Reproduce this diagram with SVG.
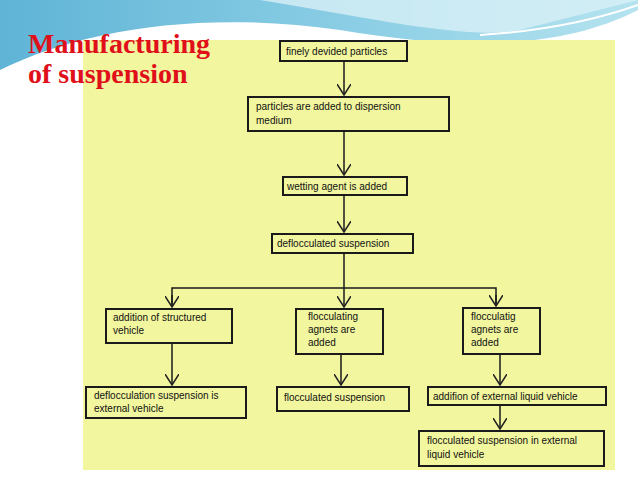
<svg xmlns="http://www.w3.org/2000/svg" width="638" height="478" viewBox="0 0 638 478">
<defs>
<linearGradient id="sky" x1="0" y1="0" x2="1" y2="0"><stop offset="0" stop-color="#5fb4d6"/><stop offset="0.6" stop-color="#8fd0e6"/><stop offset="1" stop-color="#b5e3ef"/></linearGradient>
<marker id="ah" viewBox="0 0 12 14" refX="11" refY="7" markerWidth="12" markerHeight="14" markerUnits="userSpaceOnUse" orient="auto"><path d="M0,0 L11,7 L0,14" fill="none" stroke="#222" stroke-width="1.5"/></marker>
</defs>
<style>
.b{fill:none;stroke:#1a1a1a;stroke-width:2}
.t{font-family:"Liberation Sans",Arial,sans-serif;font-size:10px;fill:#111}
.c{stroke:#1a1a1a;stroke-width:1.5;fill:none}
.ttl{font-family:"Liberation Serif","Times New Roman",serif;font-size:28px;font-weight:bold;fill:#e0101a}
</style>
<rect width="638" height="478" fill="#fff"/>
<path d="M0,0 H638 V10 C560,50 460,50 340,30 C200,10 80,30 0,70 Z" fill="url(#sky)"/>
<path d="M260,0 C380,20 470,40 520,30 L638,0 Z" fill="#d8f0f6" opacity="0.8"/>
<path d="M0,75 C100,30 200,25 300,35" fill="none" stroke="#ffffff" stroke-width="3" opacity="0.8"/>
<path d="M480,35 C560,30 610,15 638,5" fill="none" stroke="#ffffff" stroke-width="2"/>
<rect x="83" y="40" width="532" height="430" fill="#f2f69f"/>
<text class="ttl" x="28" y="53">Manufacturing</text>
<text class="ttl" x="28" y="83">of suspension</text>
<g id="connectors">
<line class="c" x1="344" y1="61" x2="344" y2="95" marker-end="url(#ah)"/>
<line class="c" x1="344" y1="131" x2="344" y2="175" marker-end="url(#ah)"/>
<line class="c" x1="344" y1="195" x2="344" y2="232" marker-end="url(#ah)"/>
<line class="c" x1="344" y1="253" x2="344" y2="307" marker-end="url(#ah)"/>
<polyline class="c" points="172,307 172,288 496,288 496,306"/>
<line class="c" x1="172" y1="295" x2="172" y2="307" marker-end="url(#ah)"/>
<line class="c" x1="496" y1="295" x2="496" y2="306" marker-end="url(#ah)"/>
<line class="c" x1="172" y1="343" x2="172" y2="385" marker-end="url(#ah)"/>
<line class="c" x1="341" y1="354" x2="341" y2="385" marker-end="url(#ah)"/>
<line class="c" x1="500" y1="354" x2="500" y2="385" marker-end="url(#ah)"/>
<line class="c" x1="500" y1="405" x2="500" y2="429" marker-end="url(#ah)"/>
</g>
<g id="n1"><rect class="b" x="280" y="41" width="127" height="20"/><text class="t" x="286" y="55">finely devided particles</text></g>
<g id="n2"><rect class="b" x="248" y="97" width="201" height="34"/><text class="t" x="256" y="110">particles are added to  dispersion</text><text class="t" x="256" y="124">medium</text></g>
<g id="n3"><rect class="b" x="283" y="177" width="124" height="18"/><text class="t" x="287" y="190">wetting agent is added</text></g>
<g id="n4"><rect class="b" x="272" y="234" width="141" height="19"/><text class="t" x="277" y="247">deflocculated suspension</text></g>
<g id="n5"><rect class="b" x="106" y="309" width="126" height="34"/><text class="t" x="113" y="321">addition of structured</text><text class="t" x="113" y="334">vehicle</text></g>
<g id="n6"><rect class="b" x="296" y="309" width="87" height="45"/><text class="t" x="308" y="320">flocculating</text><text class="t" x="308" y="333">agnets are</text><text class="t" x="308" y="346">added</text></g>
<g id="n7"><rect class="b" x="463" y="308" width="77" height="46"/><text class="t" x="471" y="320">flocculatig</text><text class="t" x="471" y="333">agnets are</text><text class="t" x="471" y="346">added</text></g>
<g id="n8"><rect class="b" x="86" y="387" width="160" height="31"/><text class="t" x="94" y="399">deflocculation suspension is</text><text class="t" x="94" y="412">external vehicle</text></g>
<g id="n9"><rect class="b" x="277" y="387" width="132" height="24"/><text class="t" x="284" y="401">flocculated suspension</text></g>
<g id="n10"><rect class="b" x="428" y="387" width="178" height="18"/><text class="t" x="433" y="400">addifion of external liquid vehicle</text></g>
<g id="n11"><rect class="b" x="419" y="431" width="185" height="35"/><text class="t" x="427" y="444">flocculated suspension in external</text><text class="t" x="427" y="458">liquid vehicle</text></g>
</svg>
